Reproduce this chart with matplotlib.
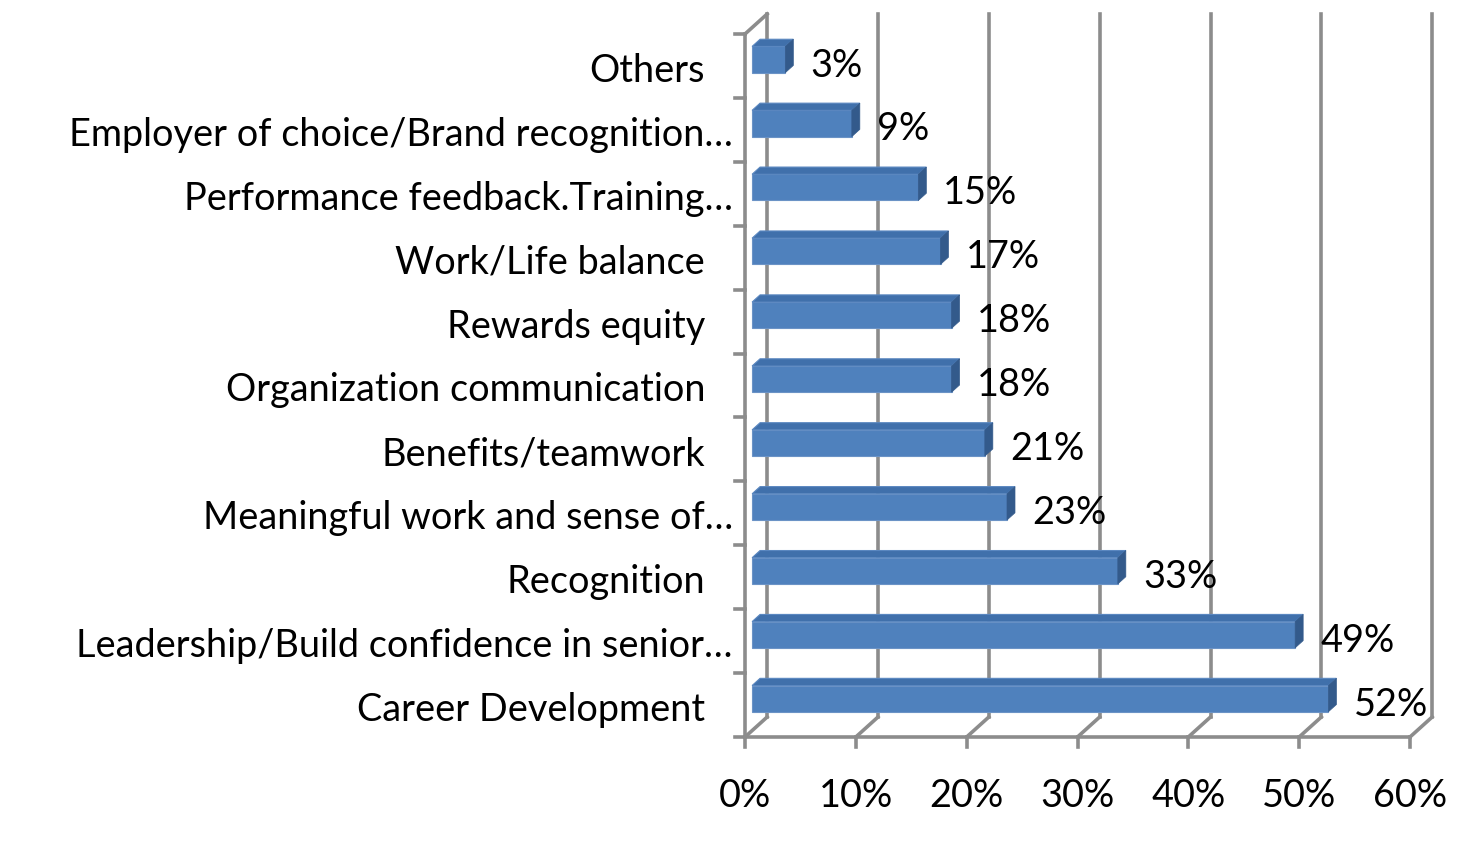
import matplotlib
matplotlib.use("Agg")
import matplotlib.pyplot as plt
import matplotlib.transforms as mtransforms
from matplotlib.patches import Polygon

# data, bottom to top
categories = [
    "Career Development",
    "Leadership/Build confidence in senior\u2026",
    "Recognition",
    "Meaningful work and sense of\u2026",
    "Benefits/teamwork",
    "Organization communication",
    "Rewards equity",
    "Work/Life balance",
    "Performance feedback.Training\u2026",
    "Employer of choice/Brand recognition\u2026",
    "Others",
]
values = [52, 49, 33, 23, 21, 18, 18, 17, 15, 9, 3]
truncated = [c.endswith("\u2026") for c in categories]
xticks = [0, 10, 20, 30, 40, 50, 60]
xticklabels = ["0%", "10%", "20%", "30%", "40%", "50%", "60%"]

plt.rcParams["font.family"] = ["Lato", "DejaVu Sans"]
FS = 27.3

W, H = 1480, 854
fig = plt.figure(figsize=(W / 100, H / 100), dpi=100)
ax = fig.add_axes([745 / W, (H - 738) / H, (1410 - 745) / W, (738 - 35) / H])
ax.set_xlim(0, 60)
ax.set_ylim(-0.5, len(categories) - 0.5)
for s in ax.spines.values():
    s.set_visible(False)
ax.set_xticks([])
ax.set_yticks([])

# 3d depth in data units
dx, dy = 2.0, 0.313
grid_c = "#8c8c8c"
lw = 2.6
y0, y1 = -0.5, len(categories) - 0.5

# back wall gridlines + floor diagonals
for t in xticks:
    ax.plot([t + dx, t + dx], [y0 + dy, y1 + dy], color=grid_c, lw=lw, clip_on=False, zorder=1)
    ax.plot([t, t + dx], [y0, y0 + dy], color=grid_c, lw=lw, clip_on=False, zorder=1)
# front floor edge and left wall
ax.plot([0, 60], [y0, y0], color=grid_c, lw=lw, clip_on=False, zorder=1)
ax.plot([0, 0], [y0, y1], color=grid_c, lw=lw, clip_on=False, zorder=1)
ax.plot([0, dx], [y1, y1 + dy], color=grid_c, lw=lw, clip_on=False, zorder=1)

# tick marks
px_x = 60 / (1410 - 745)
px_y = (y1 - y0) / (738 - 35)
for t in xticks:
    ax.plot([t, t], [y0, y0 - 10 * px_y], color=grid_c, lw=lw, clip_on=False)
for i in range(len(categories) + 1):
    yy = y0 + i
    ax.plot([0, -10 * px_x], [yy, yy], color=grid_c, lw=lw, clip_on=False)

# bars
front_d, back_d = 0.32, 0.68
bh = 0.41
fx, fy = front_d * dx, front_d * dy
bx, by = (back_d - front_d) * dx, (back_d - front_d) * dy
ypos = list(range(len(categories)))
ax.barh([y + fy for y in ypos], values, height=bh, left=fx,
        color="#4f81bd", edgecolor="#6b93c6", linewidth=0.8, zorder=3)
for y, v in zip(ypos, values):
    yb, yt = y + fy - bh / 2, y + fy + bh / 2
    xl, xr = fx, fx + v
    top = Polygon([[xl, yt], [xr, yt], [xr + bx, yt + by], [xl + bx, yt + by]],
                  closed=True, facecolor="#4070ab", edgecolor="#5a87c0", lw=0.8, zorder=3, clip_on=False)
    side = Polygon([[xr, yb], [xr + bx, yb + by], [xr + bx, yt + by], [xr, yt]],
                   closed=True, facecolor="#335a8b", edgecolor="#335a8b", lw=0.5, zorder=3, clip_on=False)
    ax.add_patch(top)
    ax.add_patch(side)
    tfv = mtransforms.offset_copy(ax.transData, fig=fig, x=25, y=-5, units="dots")
    ax.text(xr, y + fy, f"{v}%", ha="left", va="center", fontsize=FS, zorder=4, transform=tfv)

# category labels
for y, c, tr in zip(ypos, categories, truncated):
    off = -12 if tr else -40
    tf = mtransforms.offset_copy(ax.transData, fig=fig, x=off, y=-4, units="dots")
    ax.text(0, y, c, ha="right", va="center", fontsize=FS, transform=tf)

# x tick labels
tfx = mtransforms.offset_copy(ax.transData, fig=fig, x=0, y=-58, units="dots")
for t, lab in zip(xticks, xticklabels):
    ax.text(t, y0, lab, ha="center", va="center", fontsize=FS, transform=tfx)

fig.savefig("out.png", dpi=100, facecolor="white")
